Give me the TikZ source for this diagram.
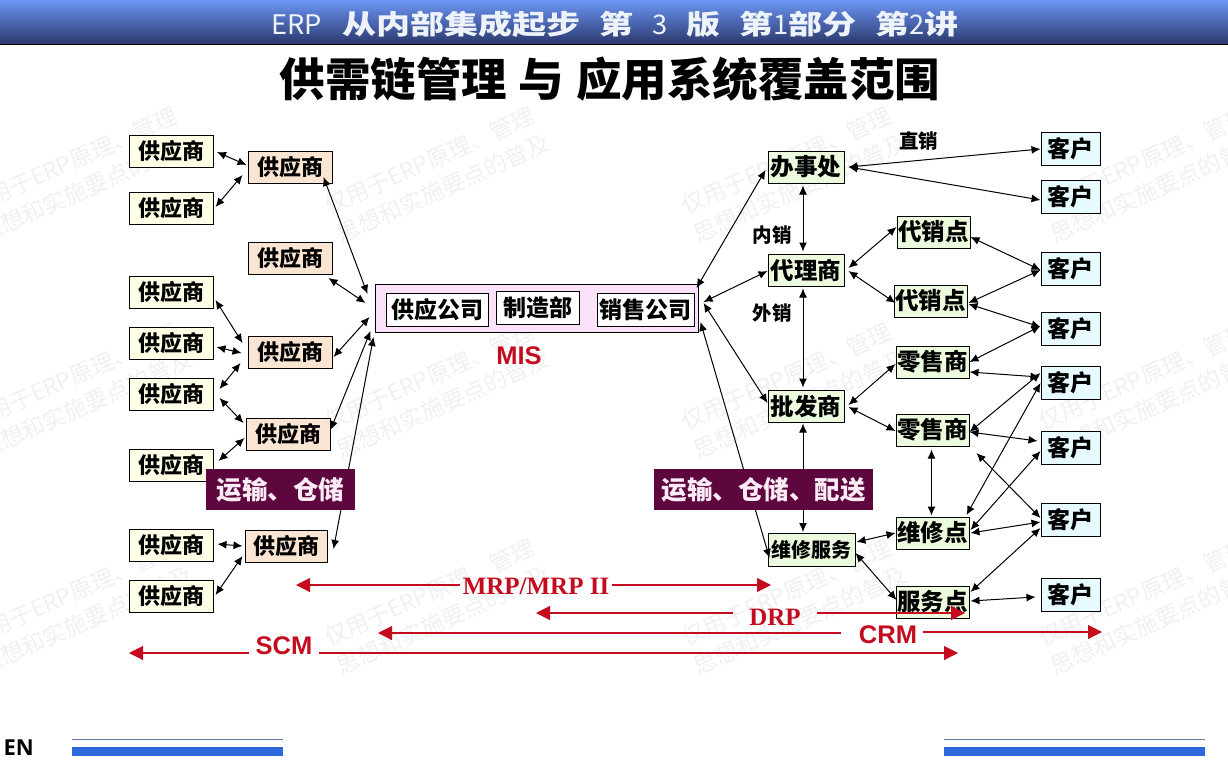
\documentclass[tikz,border=0pt]{standalone}
\usepackage{fontspec}
\setmainfont{Liberation Sans}
\newfontfamily\cjk{Noto Sans CJK SC}
\newfontfamily\cjkblack{Noto Sans CJK SC}[UprightFont=* Black]
\newfontfamily\timesfont{Liberation Serif}
\usetikzlibrary{arrows.meta}
\definecolor{headtop}{RGB}{108,150,245}
\definecolor{headmid}{RGB}{92,132,228}
\definecolor{headbot}{RGB}{42,56,108}
\definecolor{headtext}{RGB}{238,243,250}
\definecolor{ivory}{RGB}{255,255,232}
\definecolor{peach}{RGB}{250,228,210}
\definecolor{leaf}{RGB}{236,250,222}
\definecolor{ice}{RGB}{230,250,255}
\definecolor{misfill}{RGB}{250,226,250}
\definecolor{plum}{RGB}{94,6,62}
\definecolor{bandred}{RGB}{196,12,30}
\definecolor{stripe}{RGB}{45,105,220}
\definecolor{stripeline}{RGB}{100,122,172}

\begin{document}
\begin{tikzpicture}[
    x=1pt, y=-1pt,
    box/.style={rectangle, draw=black, line width=1pt, inner sep=0pt, text=black,
        minimum width=84pt, minimum height=32pt,
        font=\cjk\bfseries\fontsize{22pt}{24pt}\selectfont},
    supplier/.style={box, fill=ivory},
    vendor/.style={box, fill=peach},
    seller/.style={box, fill=leaf, minimum width=76pt, font=\cjk\bfseries\fontsize{23.5pt}{26pt}\selectfont},
    shop/.style={seller, minimum width=73pt},
    customer/.style={box, fill=ice, minimum width=59pt, minimum height=33pt, font=\cjk\bfseries\fontsize{23pt}{26pt}\selectfont},
    part/.style={box, fill=white, minimum height=33pt, font=\cjk\bfseries\fontsize{23pt}{26pt}\selectfont},
    banner/.style={rectangle, fill=plum, text={rgb,255:red,250;green,235;blue,245}, inner sep=0pt,
        minimum height=41pt, font=\cjk\bfseries\fontsize{25.5pt}{28pt}\selectfont},
    tag/.style={inner sep=0pt, font=\cjk\bfseries\fontsize{19.5pt}{22pt}\selectfont},
    watermark/.style={anchor=north west, rotate=24, align=left, inner sep=0pt, text=black!6,
        font=\cjk\fontsize{23pt}{31pt}\selectfont},
    link/.style={line width=1pt, {Latex[length=9pt,width=8pt]}-{Latex[length=9pt,width=8pt]}},
    band/.style={line width=1.1pt, draw=bandred, -{Triangle[length=14pt,width=14pt,fill=bandred]}},
    sanslabel/.style={inner sep=0pt, text=bandred, font=\bfseries\fontsize{25.5pt}{28pt}\selectfont},
    seriflabel/.style={inner sep=0pt, text=bandred, font=\timesfont\bfseries\fontsize{25pt}{28pt}\selectfont}
]
    \useasboundingbox (0,0) rectangle (1228,768);

    % watermark tiles
    \foreach \wx in {-36,321,678,1035}
        \foreach \wy in {211,427,643}
            \node[watermark] (wm\wx\wy) at (\wx,\wy-14) {仅用于ERP原理、管理\\思想和实施要点的普及};

    % header
    \node[rectangle, inner sep=0pt, minimum width=1228pt, minimum height=44pt,
        top color=headtop, middle color=headmid, bottom color=headbot] (bar) at (614,22) {};
    \draw[black, line width=1.2pt] (bar.south west) -- (bar.south east);
    \node[inner sep=0pt, text=headtext, xscale=1.26, transform shape,
        font=\cjk\bfseries\fontsize{27pt}{30pt}\selectfont] (subject) at (615,24)
        {{\mdseries\scalebox{.8}[1]{ERP}}\hspace{16pt}从内部集成起步\hspace{15pt}第\hspace{15pt}{\mdseries\scalebox{.8}[1]{3}}\hspace{15pt}版\hspace{15pt}第{\mdseries\scalebox{.8}[1]{1}}部分\hspace{15pt}第{\mdseries\scalebox{.8}[1]{2}}讲};
    \node[inner sep=0pt, font=\cjkblack\fontsize{45.5pt}{50pt}\selectfont] (heading) at (610,79)
        {供需链管理\hspace{12pt}与\hspace{12pt}应用系统覆盖范围};

    % supply side
    \node[supplier] (s1) at (171,151) {供应商};
    \node[supplier] (s2) at (171,208) {供应商};
    \node[supplier] (s3) at (171,292) {供应商};
    \node[supplier] (s4) at (171,343) {供应商};
    \node[supplier] (s5) at (171,394) {供应商};
    \node[supplier] (s6) at (171,465) {供应商};
    \node[supplier] (s7) at (171,545) {供应商};
    \node[supplier] (s8) at (171,596) {供应商};
    \node[vendor] (m1) at (290,167) {供应商};
    \node[vendor] (m2) at (290,258) {供应商};
    \node[vendor] (m3) at (290,352) {供应商};
    \node[vendor] (m4) at (288,434) {供应商};
    \node[vendor, minimum width=82pt] (m5) at (286,546) {供应商};

    % company
    \node[box, fill=misfill, minimum width=323pt, minimum height=48pt] (mis) at (536.5,308) {};
    \node[part, minimum width=102pt] (supplyco) at (437,309.5) {供应公司};
    \node[part, minimum width=83pt] (plant) at (537.5,308) {制造部};
    \node[part, minimum width=97pt] (salesco) at (645.5,309.5) {销售公司};
    \node[sanslabel] (mislabel) at (519,356) {MIS};

    % sales side
    \node[seller] (office) at (806,167) {办事处};
    \node[seller] (agent) at (806,270) {代理商};
    \node[seller] (whole) at (806,406) {批发商};
    \node[seller, minimum width=87pt, minimum height=33pt, font=\cjk\bfseries\fontsize{20pt}{22pt}\selectfont] (repair) at (811.5,550) {维修服务};
    \node[shop] (dx1) at (933.5,232) {代销点};
    \node[shop] (dx2) at (930.5,301) {代销点};
    \node[shop] (ls1) at (932.5,362) {零售商};
    \node[shop] (ls2) at (932.5,430) {零售商};
    \node[shop] (wxd) at (932.5,533) {维修点};
    \node[shop] (fwd) at (932.5,602) {服务点};
    \node[customer] (k1) at (1070.5,149) {客户};
    \node[customer] (k2) at (1070.5,197) {客户};
    \node[customer] (k3) at (1070.5,268.5) {客户};
    \node[customer] (k4) at (1070.5,329) {客户};
    \node[customer] (k5) at (1070.5,383) {客户};
    \node[customer] (k6) at (1070.5,448) {客户};
    \node[customer] (k7) at (1070.5,520) {客户};
    \node[customer] (k8) at (1070.5,595) {客户};
    \node[tag] (direct) at (918.5,141) {直销};
    \node[tag] (inner) at (772,235) {内销};
    \node[tag] (outer) at (772,313) {外销};

    % supply links
    \draw[link] ([shift={(3.5,1)}]s1.east) -- ([shift={(-1,-2)}]m1.west);
    \draw[link] ([shift={(2,-1)}]s2.east) -- ([shift={(-5,8)}]m1.west);
    \draw[link] ([shift={(2,8)}]s3.east) -- ([shift={(-5,-9)}]m3.west);
    \draw[link] ([shift={(3,4)}]s4.east) -- ([shift={(-6,1)}]m3.west);
    \draw[link] ([shift={(6,-5)}]s5.east) -- ([shift={(-7,11)}]m3.west);
    \draw[link] ([shift={(6,4)}]s5.east) -- ([shift={(-2,-11)}]m4.west);
    \draw[link] ([shift={(5,-4)}]s6.east) -- ([shift={(-1,4)}]m4.west);
    \draw[link] ([shift={(4,-1)}]s7.east) -- ([shift={(-2,0)}]m5.west);
    \draw[link] ([shift={(2,-1)}]s8.east) -- ([shift={(-2,10)}]m5.west);
    \draw[link] ([shift={(-9,10)}]m1.east) -- ([shift={(-7,-14)}]mis.west);
    \draw[link] ([shift={(-4,20)}]m2.east) -- ([shift={(-9,-5)}]mis.west);
    \draw[link] ([shift={(1,5)}]m3.east) -- ([shift={(-5,9)}]mis.west);
    \draw[link] ([shift={(0,-4)}]m4.east) -- ([shift={(-4,23)}]mis.west);
    \draw[link] ([shift={(6,3)}]m5.east) -- ([shift={(-1,29)}]mis.west);

    % sales links
    \draw[link] ([shift={(-2,-20)}]mis.east) -- ([shift={(-2,3)}]office.west);
    \draw[link] ([shift={(5,-6)}]mis.east) -- ([shift={(0,1)}]agent.west);
    \draw[link] ([shift={(5,-5)}]mis.east) -- ([shift={(0,-3)}]whole.west);
    \draw[link] ([shift={(2,14)}]mis.east) -- ([shift={(2,8)}]repair.west);
    \draw[link] ([shift={(-3,2)}]office.south) -- ([shift={(-3,-2)}]agent.north);
    \draw[link] ([shift={(-3,2)}]agent.south) -- ([shift={(-3,-2)}]whole.north);
    \draw[link] ([shift={(-3,1)}]whole.south) -- ([shift={(-8.5,-1)}]repair.north);
    \draw[link] ([shift={(4,-2)}]agent.east) -- ([shift={(0,-5)}]dx1.west);
    \draw[link] ([shift={(4,1)}]agent.east) -- ([shift={(2,2)}]dx2.west);
    \draw[link] ([shift={(4,-1)}]whole.east) -- ([shift={(0,2)}]ls1.west);
    \draw[link] ([shift={(4,1)}]whole.east) -- ([shift={(0,1)}]ls2.west);
    \draw[link] ([shift={(-1,3)}]ls2.south) -- ([shift={(-1,-1)}]wxd.north);
    \draw[link] ([shift={(1,-8)}]repair.east) -- (wxd.west);
    \draw[link] ([shift={(0,3)}]repair.east) -- ([shift={(1,-2)}]fwd.west);
    \draw[link] ([shift={(4,0)}]office.east) -- (k1.west);
    \draw[link] ([shift={(4,0)}]office.east) -- ([shift={(0,3)}]k2.west);
    \draw[link] ([shift={(0,5)}]dx1.east) -- ([shift={(0,1.5)}]k3.west);
    \draw[link] ([shift={(1,2)}]dx2.east) -- ([shift={(0,1.5)}]k3.west);
    \draw[link] ([shift={(1,3)}]dx2.east) -- ([shift={(0,-2)}]k4.west);
    \draw[link] (ls1.east) -- ([shift={(0,-3)}]k4.west);
    \draw[link] ([shift={(0,10)}]ls1.east) -- ([shift={(-1,-6)}]k5.west);
    \draw[link] ([shift={(0,2)}]ls2.east) -- ([shift={(0,-10)}]k5.west);
    \draw[link] ([shift={(0,2)}]ls2.east) -- ([shift={(-3,-7)}]k6.west);
    \draw[link] ([shift={(-3,-18)}]wxd.east) -- (k5.west);
    \draw[link] ([shift={(1,-3)}]wxd.east) -- ([shift={(0,3)}]k6.west);
    \draw[link] ([shift={(1,0)}]wxd.east) -- ([shift={(0,2)}]k7.west);
    \draw[link] ([shift={(7,23)}]ls2.east) -- ([shift={(0,-2)}]k7.west);
    \draw[link] ([shift={(1,-10)}]fwd.east) -- ([shift={(0,8)}]k7.west);
    \draw[link] ([shift={(1,-1)}]fwd.east) -- ([shift={(-5,2)}]k8.west);

    % banners
    \node[banner, minimum width=149pt] (store) at (280.5,489.5) {运输、仓储};
    \node[banner, minimum width=219pt] (deliver) at (763.5,489.5) {运输、仓储、配送};

    % ranges
    \node[seriflabel, minimum width=152pt] (mrp) at (536,586) {MRP/MRP II};
    \node[seriflabel, minimum width=84pt] (drp) at (775,617) {DRP};
    \node[sanslabel, minimum width=82pt] (crm) at (888,635) {CRM};
    \node[sanslabel, minimum width=70pt] (scm) at (284,646) {SCM};
    \coordinate (mrpL) at (296,585);
    \coordinate (mrpR) at (771,585);
    \coordinate (drpL) at (536,613);
    \coordinate (drpR) at (965,613);
    \coordinate (crmL) at (378,633);
    \coordinate (crmR) at (1102,632);
    \coordinate (scmL) at (129,653);
    \coordinate (scmR) at (958,653);
    \draw[band] (mrpL -| mrp.west) -- (mrpL);
    \draw[band] (mrpR -| mrp.east) -- (mrpR);
    \draw[band] (drpL -| drp.west) -- (drpL);
    \draw[band] (drpR -| drp.east) -- (drpR);
    \draw[band] ([xshift=-6pt]crmL -| crm.west) -- (crmL);
    \draw[band] ([xshift=-6pt]crmR -| crm.east) -- (crmR);
    \draw[band] (scmL -| scm.west) -- (scmL);
    \draw[band] (scmR -| scm.east) -- (scmR);

    % footer
    \node[anchor=east, inner sep=0pt, font=\fontspec{Open Sans}\bfseries\fontsize{22pt}{25pt}\selectfont] (brand) at (34,748) {EN};
    \draw[stripeline, line width=1pt] (72,739) -- (283,739);
    \fill[stripe] (72,747) rectangle (283,756);
    \draw[stripeline, line width=1pt] (944,739) -- (1205,739);
    \fill[stripe] (944,747) rectangle (1205,756);
\end{tikzpicture}
\end{document}
